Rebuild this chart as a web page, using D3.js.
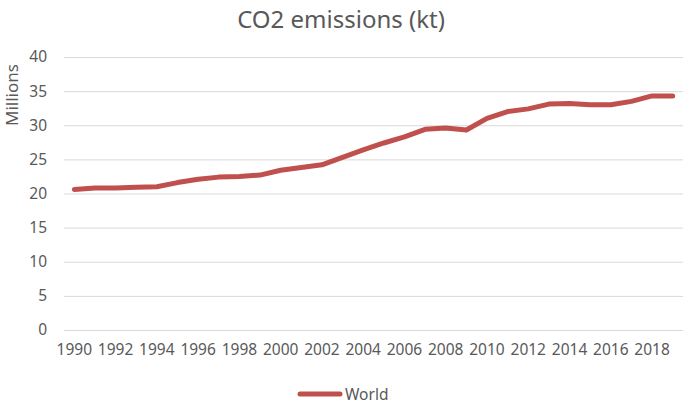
<!DOCTYPE html>
<html><head><meta charset="utf-8">
<script src="https://cdn.jsdelivr.net/npm/d3@7"></script>
<style>body{margin:0;background:#fff}svg{display:block}text{font-family:"Noto Sans",sans-serif;fill:#595959}</style>
</head><body><svg id="c" width="685" height="406"></svg>
<script>
const years = d3.range(1990, 2020);
const world = [20.6,20.8,20.8,20.9,21.0,21.6,22.1,22.4,22.5,22.7,23.4,23.8,24.2,25.3,26.4,27.4,28.3,29.4,29.6,29.3,31.0,32.0,32.4,33.1,33.2,33.0,33.0,33.5,34.3,34.3];
const yTicks = [0,5,10,15,20,25,30,35,40];
const xLabels = years.filter((y,i)=>i%2===0);
const title = "CO2 emissions (kt)";
const yTitle = "Millions";
const seriesName = "World";

(function(){
const svg = d3.select("#c");
const mL=64, mR=683, mT=57, mB=330;
const x = d3.scaleBand().domain(years).range([mL,mR]);
const y = d3.scaleLinear().domain([0,40]).range([mB,mT]);

svg.append("g").selectAll("line").data(yTicks).join("line")
  .attr("x1",mL).attr("x2",mR).attr("y1",d=>y(d)+0.5).attr("y2",d=>y(d)+0.5)
  .attr("stroke","#d9d9d9").attr("stroke-width",1);

const ya = svg.append("g").attr("transform",`translate(${mL},0)`)
  .call(d3.axisLeft(y).tickValues(yTicks).tickSize(0).tickPadding(17));
ya.select(".domain").remove();
ya.selectAll("text").attr("font-size","15.5px").attr("fill","#595959").attr("font-family","Noto Sans");

const xa = svg.append("g").attr("transform",`translate(0,${mB})`)
  .call(d3.axisBottom(x).tickValues(xLabels).tickSize(0).tickPadding(14));
xa.select(".domain").remove();
xa.selectAll("text").attr("font-size","15.5px").attr("fill","#595959").attr("font-family","Noto Sans");

const line = d3.line().x((d,i)=>x(years[i])+x.bandwidth()/2).y(d=>y(d));
svg.append("path").datum(world).attr("d",line).attr("fill","none")
  .attr("stroke","#C0504D").attr("stroke-width",5).attr("stroke-linejoin","round").attr("stroke-linecap","round");

svg.append("text").attr("x",341).attr("y",28).attr("text-anchor","middle")
  .attr("font-size","24px").text(title);
svg.append("text").attr("transform","translate(18,95) rotate(-90)").attr("text-anchor","middle")
  .attr("font-size","17px").text(yTitle);

svg.append("line").attr("x1",300).attr("x2",340).attr("y1",394).attr("y2",394)
  .attr("stroke","#C0504D").attr("stroke-width",5).attr("stroke-linecap","round");
svg.append("text").attr("x",345).attr("y",399.5).attr("font-size","15.5px").text(seriesName);
})();
</script></body></html>
